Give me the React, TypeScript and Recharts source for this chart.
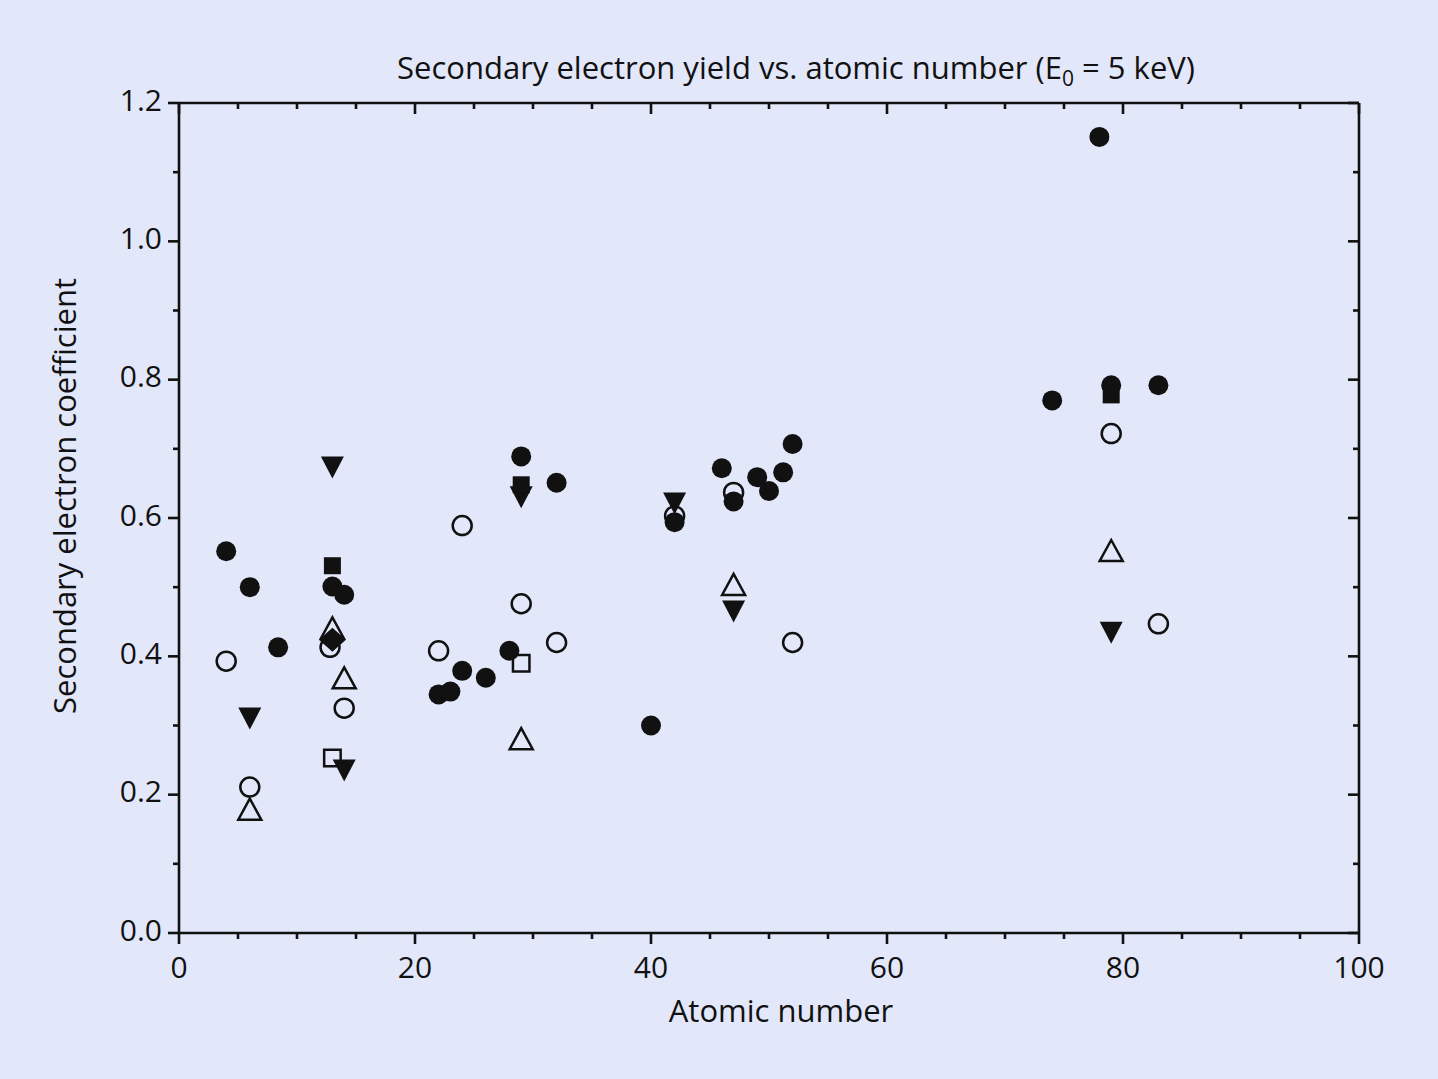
import React from 'react';
import { ScatterChart, Scatter, XAxis, YAxis } from 'recharts';

// ---- data (atomic number Z, secondary electron coefficient) ----
const filledCircles = [
  { x: 4, y: 0.552 }, { x: 6, y: 0.5 }, { x: 8.4, y: 0.413 }, { x: 13, y: 0.501 },
  { x: 14, y: 0.489 }, { x: 22, y: 0.345 }, { x: 23, y: 0.349 }, { x: 24, y: 0.379 },
  { x: 26, y: 0.369 }, { x: 28, y: 0.408 }, { x: 29, y: 0.689 }, { x: 32, y: 0.651 },
  { x: 40, y: 0.3 }, { x: 42, y: 0.594 }, { x: 46, y: 0.672 }, { x: 47, y: 0.624 },
  { x: 49, y: 0.659 }, { x: 50, y: 0.639 }, { x: 51.2, y: 0.666 }, { x: 52, y: 0.707 },
  { x: 74, y: 0.77 }, { x: 78, y: 1.151 }, { x: 79, y: 0.792 }, { x: 83, y: 0.792 },
];
const openCircles = [
  { x: 4, y: 0.393 }, { x: 6, y: 0.211 }, { x: 12.8, y: 0.413 }, { x: 14, y: 0.325 },
  { x: 22, y: 0.408 }, { x: 24, y: 0.589 }, { x: 29, y: 0.476 }, { x: 32, y: 0.42 },
  { x: 42, y: 0.603 }, { x: 47, y: 0.637 }, { x: 52, y: 0.42 }, { x: 79, y: 0.722 },
  { x: 83, y: 0.447 },
];
const downTriangles = [
  { x: 6, y: 0.31 }, { x: 13, y: 0.673 }, { x: 14, y: 0.235 }, { x: 29, y: 0.63 },
  { x: 42, y: 0.621 }, { x: 47, y: 0.465 }, { x: 79, y: 0.434 },
];
const upTriangles = [
  { x: 6, y: 0.179 }, { x: 13, y: 0.441 }, { x: 14, y: 0.369 }, { x: 29, y: 0.281 },
  { x: 47, y: 0.504 }, { x: 79, y: 0.553 },
];
const filledSquares = [{ x: 13, y: 0.531 }, { x: 29, y: 0.648 }, { x: 79, y: 0.778 }];
const openSquares = [{ x: 13, y: 0.253 }, { x: 29, y: 0.39 }];
const filledDiamonds = [{ x: 13, y: 0.424 }];

const xTicks = [0, 5, 10, 15, 20, 25, 30, 35, 40, 45, 50, 55, 60, 65, 70, 75, 80, 85, 90, 95, 100];
const xMajor = [0, 20, 40, 60, 80, 100];
const yTicks = [0, 0.1, 0.2, 0.3, 0.4, 0.5, 0.6, 0.7, 0.8, 0.9, 1.0, 1.1, 1.2];
const yMajor = [0, 0.2, 0.4, 0.6, 0.8, 1.0, 1.2];

const title = 'Secondary electron yield vs. atomic number (E';
const titleSub = '0';
const titleEnd = ' = 5 keV)';
const xLabel = 'Atomic number';
const yLabel = 'Secondary electron coefficient';

// ---- styles ----
const BG = '#e2e7fa';
const INK = '#111111';
const FONT = '"Open Sans", "Noto Sans", sans-serif';
const TICK_FS = 30;
const LABEL_FS = 31;
const MAJOR = 11;
const MINOR = 6;
const LW = 2.6;

const isMajorX = (v: number) => xMajor.some((m) => Math.abs(m - v) < 1e-6);
const isMajorY = (v: number) => yMajor.some((m) => Math.abs(m - v) < 1e-6);

const BottomTick = (p: any) => {
  const v = p.payload.value;
  const major = isMajorX(v);
  return (
    <g>
      <line x1={p.x} x2={p.x} y1={p.y} y2={p.y + (major ? MAJOR : MINOR)} stroke={INK} strokeWidth={LW} />
      {major && (
        <text x={p.x} y={p.y + 45} textAnchor="middle" fontFamily={FONT} fontSize={TICK_FS} fill={INK}>
          {String(v)}
        </text>
      )}
    </g>
  );
};
const TopTick = (p: any) => {
  const major = isMajorX(p.payload.value);
  return <line x1={p.x} x2={p.x} y1={p.y} y2={p.y + (major ? MAJOR : MINOR)} stroke={INK} strokeWidth={LW} />;
};
const LeftTick = (p: any) => {
  const v = p.payload.value;
  const major = isMajorY(v);
  return (
    <g>
      <line x1={p.x - (major ? MAJOR : MINOR)} x2={p.x} y1={p.y} y2={p.y} stroke={INK} strokeWidth={LW} />
      {major && (
        <text x={p.x - 17} y={p.y + 7.5} textAnchor="end" fontFamily={FONT} fontSize={TICK_FS} fill={INK}>
          {v.toFixed(1)}
        </text>
      )}
    </g>
  );
};
const RightTick = (p: any) => {
  const major = isMajorY(p.payload.value);
  return <line x1={p.x - (major ? MAJOR : MINOR)} x2={p.x} y1={p.y} y2={p.y} stroke={INK} strokeWidth={LW} />;
};

// ---- marker shapes ----
const FilledCircle = (p: any) => <circle cx={p.cx} cy={p.cy} r={10} fill={INK} />;
const OpenCircle = (p: any) => <circle cx={p.cx} cy={p.cy} r={9.5} fill="none" stroke={INK} strokeWidth={2.5} />;
const DownTriangle = (p: any) => (
  <polygon
    points={`${p.cx - 11.5},${p.cy - 11} ${p.cx + 11.5},${p.cy - 11} ${p.cx},${p.cy + 11}`}
    fill={INK}
  />
);
const UpTriangle = (p: any) => (
  <polygon
    points={`${p.cx},${p.cy - 10.5} ${p.cx + 11.5},${p.cy + 10.5} ${p.cx - 11.5},${p.cy + 10.5}`}
    fill="none"
    stroke={INK}
    strokeWidth={2.5}
  />
);
const FilledSquare = (p: any) => <rect x={p.cx - 8.5} y={p.cy - 8.5} width={17} height={17} fill={INK} />;
const OpenSquare = (p: any) => (
  <rect x={p.cx - 8.25} y={p.cy - 8.25} width={16.5} height={16.5} fill="none" stroke={INK} strokeWidth={2.5} />
);
const FilledDiamond = (p: any) => (
  <polygon
    points={`${p.cx},${p.cy - 12} ${p.cx + 13.5},${p.cy} ${p.cx},${p.cy + 12} ${p.cx - 13.5},${p.cy}`}
    fill={INK}
  />
);

const W = 1438;
const H = 1079;

export default function App() {
  return (
    <div style={{ position: 'absolute', left: 0, top: 0, width: W, height: H, background: BG }}>
      <ScatterChart width={W} height={H} margin={{ top: 0, right: 0, bottom: 0, left: 0 }}>
        <XAxis
          xAxisId="b"
          type="number"
          dataKey="x"
          orientation="bottom"
          domain={[0, 100]}
          ticks={xTicks}
          interval={0}
          height={146}
          tickSize={0}
          tickMargin={0}
          tickLine={false}
          tick={BottomTick}
          axisLine={{ stroke: INK, strokeWidth: LW }}
          allowDataOverflow
        />
        <XAxis
          xAxisId="t"
          type="number"
          dataKey="x"
          orientation="top"
          domain={[0, 100]}
          ticks={xTicks}
          interval={0}
          height={103}
          tickSize={0}
          tickMargin={0}
          tickLine={false}
          tick={TopTick}
          axisLine={{ stroke: INK, strokeWidth: LW }}
          allowDataOverflow
        />
        <YAxis
          yAxisId="l"
          type="number"
          dataKey="y"
          orientation="left"
          domain={[0, 1.2]}
          ticks={yTicks}
          interval={0}
          width={179}
          tickSize={0}
          tickMargin={0}
          tickLine={false}
          tick={LeftTick}
          axisLine={{ stroke: INK, strokeWidth: LW }}
          allowDataOverflow
        />
        <YAxis
          yAxisId="r"
          type="number"
          dataKey="y"
          orientation="right"
          domain={[0, 1.2]}
          ticks={yTicks}
          interval={0}
          width={79}
          tickSize={0}
          tickMargin={0}
          tickLine={false}
          tick={RightTick}
          axisLine={{ stroke: INK, strokeWidth: LW }}
          allowDataOverflow
        />
        <Scatter xAxisId="b" yAxisId="l" data={upTriangles} shape={UpTriangle} isAnimationActive={false} />
        <Scatter xAxisId="b" yAxisId="l" data={downTriangles} shape={DownTriangle} isAnimationActive={false} />
        <Scatter xAxisId="b" yAxisId="l" data={openSquares} shape={OpenSquare} isAnimationActive={false} />
        <Scatter xAxisId="b" yAxisId="l" data={filledSquares} shape={FilledSquare} isAnimationActive={false} />
        <Scatter xAxisId="b" yAxisId="l" data={openCircles} shape={OpenCircle} isAnimationActive={false} />
        <Scatter xAxisId="b" yAxisId="l" data={filledCircles} shape={FilledCircle} isAnimationActive={false} />
        <Scatter xAxisId="b" yAxisId="l" data={filledDiamonds} shape={FilledDiamond} isAnimationActive={false} />
      </ScatterChart>
      <svg
        width={W}
        height={H}
        style={{ position: 'absolute', left: 0, top: 0, pointerEvents: 'none' }}
      >
        <text x={796} y={79} textAnchor="middle" fontFamily={FONT} fontSize={LABEL_FS} fill={INK}>
          {title}
          <tspan fontSize={21} dy={7}>{titleSub}</tspan>
          <tspan dy={-7}>{titleEnd}</tspan>
        </text>
        <text x={781} y={1022} textAnchor="middle" fontFamily={FONT} fontSize={LABEL_FS} fill={INK}>
          {xLabel}
        </text>
        <text
          transform="translate(76,496) rotate(-90)"
          x={0}
          y={0}
          textAnchor="middle"
          fontFamily={FONT}
          fontSize={LABEL_FS}
          fill={INK}
        >
          {yLabel}
        </text>
      </svg>
    </div>
  );
}
